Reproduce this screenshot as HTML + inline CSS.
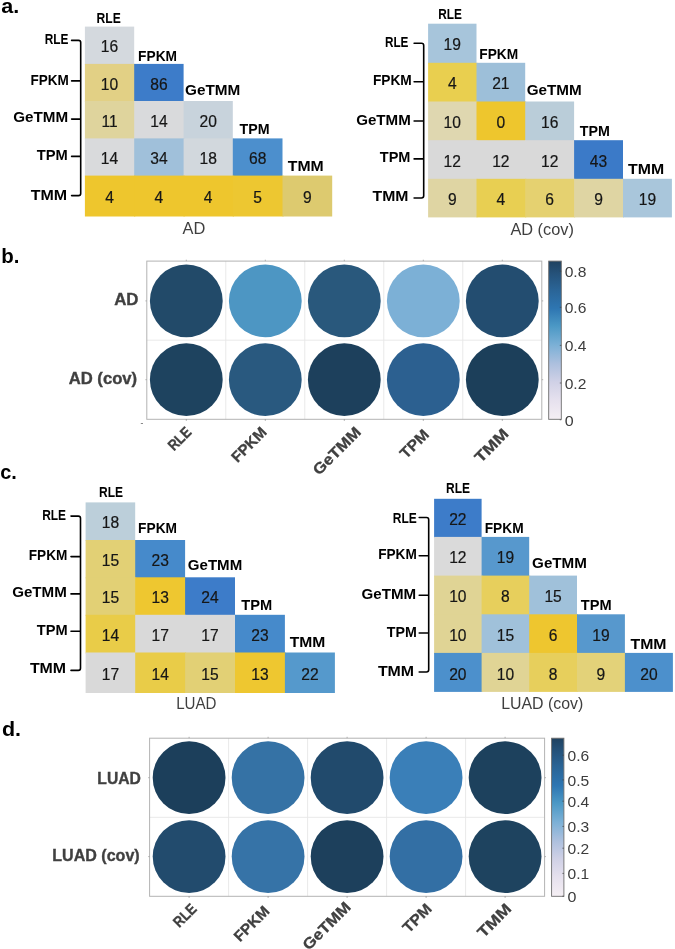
<!DOCTYPE html>
<html lang="en"><head><meta charset="utf-8"><title>Figure</title>
<style>html,body{margin:0;padding:0;background:#fff}svg{display:block}text{font-family:"Liberation Sans", sans-serif}</style>
</head><body>
<svg width="675" height="949" viewBox="0 0 675 949">
<rect width="675" height="949" fill="#fff"/>
<defs><linearGradient id="cb" x1="0" y1="1" x2="0" y2="0">
<stop offset="0" stop-color="#f5eff4"/>
<stop offset="0.12" stop-color="#e6e1ee"/>
<stop offset="0.235" stop-color="#d0d1e6"/>
<stop offset="0.35" stop-color="#adc0de"/>
<stop offset="0.47" stop-color="#7bb0d6"/>
<stop offset="0.59" stop-color="#4b98c5"/>
<stop offset="0.7" stop-color="#2e76b2"/>
<stop offset="0.82" stop-color="#2a6496"/>
<stop offset="0.92" stop-color="#25527a"/>
<stop offset="1" stop-color="#1f4260"/>
</linearGradient></defs>
<text x="1.25" y="12.90" font-size="21" font-weight="bold" fill="#000" textLength="18.00" lengthAdjust="spacingAndGlyphs">a.</text>
<text x="1.25" y="262.90" font-size="21" font-weight="bold" fill="#000" textLength="18.20" lengthAdjust="spacingAndGlyphs">b.</text>
<text x="0.15" y="479.40" font-size="21" font-weight="bold" fill="#000" textLength="16.60" lengthAdjust="spacingAndGlyphs">c.</text>
<text x="1.95" y="735.70" font-size="21" font-weight="bold" fill="#000" textLength="19.10" lengthAdjust="spacingAndGlyphs">d.</text>
<rect x="84.90" y="26.60" width="49.30" height="38.30" fill="#d4d9de"/>
<rect x="84.90" y="63.90" width="50.30" height="38.10" fill="#e2d085"/>
<rect x="134.20" y="63.90" width="49.40" height="38.10" fill="#3d7cc9"/>
<rect x="84.90" y="101.00" width="50.30" height="38.40" fill="#dfd49d"/>
<rect x="134.20" y="101.00" width="50.40" height="38.40" fill="#d9dadc"/>
<rect x="183.60" y="101.00" width="49.20" height="38.40" fill="#c8d3dc"/>
<rect x="84.90" y="138.40" width="50.30" height="38.20" fill="#d9dadc"/>
<rect x="134.20" y="138.40" width="50.40" height="38.20" fill="#a0c0da"/>
<rect x="183.60" y="138.40" width="50.20" height="38.20" fill="#d2d8dd"/>
<rect x="232.80" y="138.40" width="49.70" height="38.20" fill="#4c8fcd"/>
<rect x="84.90" y="175.60" width="50.30" height="40.90" fill="#eec62d"/>
<rect x="134.20" y="175.60" width="50.40" height="40.90" fill="#eec62d"/>
<rect x="183.60" y="175.60" width="50.20" height="40.90" fill="#eec62d"/>
<rect x="232.80" y="175.60" width="50.70" height="40.90" fill="#edc731"/>
<rect x="282.50" y="175.60" width="49.70" height="40.90" fill="#ddca6f"/>
<text x="109.55" y="52.35" font-size="15.6" font-weight="normal" fill="#161616" text-anchor="middle" stroke="#161616" stroke-width="0.2">16</text>
<text x="109.55" y="89.55" font-size="15.6" font-weight="normal" fill="#161616" text-anchor="middle" stroke="#161616" stroke-width="0.2">10</text>
<text x="158.90" y="89.55" font-size="15.6" font-weight="normal" fill="#161616" text-anchor="middle" stroke="#161616" stroke-width="0.2">86</text>
<text x="109.55" y="126.80" font-size="15.6" font-weight="normal" fill="#161616" text-anchor="middle" stroke="#161616" stroke-width="0.2">11</text>
<text x="158.90" y="126.80" font-size="15.6" font-weight="normal" fill="#161616" text-anchor="middle" stroke="#161616" stroke-width="0.2">14</text>
<text x="208.20" y="126.80" font-size="15.6" font-weight="normal" fill="#161616" text-anchor="middle" stroke="#161616" stroke-width="0.2">20</text>
<text x="109.55" y="164.10" font-size="15.6" font-weight="normal" fill="#161616" text-anchor="middle" stroke="#161616" stroke-width="0.2">14</text>
<text x="158.90" y="164.10" font-size="15.6" font-weight="normal" fill="#161616" text-anchor="middle" stroke="#161616" stroke-width="0.2">34</text>
<text x="208.20" y="164.10" font-size="15.6" font-weight="normal" fill="#161616" text-anchor="middle" stroke="#161616" stroke-width="0.2">18</text>
<text x="257.65" y="164.10" font-size="15.6" font-weight="normal" fill="#161616" text-anchor="middle" stroke="#161616" stroke-width="0.2">68</text>
<text x="109.55" y="203.15" font-size="15.6" font-weight="normal" fill="#161616" text-anchor="middle" stroke="#161616" stroke-width="0.2">4</text>
<text x="158.90" y="203.15" font-size="15.6" font-weight="normal" fill="#161616" text-anchor="middle" stroke="#161616" stroke-width="0.2">4</text>
<text x="208.20" y="203.15" font-size="15.6" font-weight="normal" fill="#161616" text-anchor="middle" stroke="#161616" stroke-width="0.2">4</text>
<text x="257.65" y="203.15" font-size="15.6" font-weight="normal" fill="#161616" text-anchor="middle" stroke="#161616" stroke-width="0.2">5</text>
<text x="307.35" y="203.15" font-size="15.6" font-weight="normal" fill="#161616" text-anchor="middle" stroke="#161616" stroke-width="0.2">9</text>
<path d="M71.60 40.40 H78.50 Q80.70 40.40 80.70 42.60 V193.40 Q80.70 195.60 78.50 195.60 H71.60" fill="none" stroke="#000" stroke-width="1.6" stroke-linecap="round"/>
<path d="M71.60 80.90 H80.10" fill="none" stroke="#000" stroke-width="1.6" stroke-linecap="round"/>
<path d="M71.60 119.10 H80.10" fill="none" stroke="#000" stroke-width="1.6" stroke-linecap="round"/>
<path d="M71.60 156.40 H80.10" fill="none" stroke="#000" stroke-width="1.6" stroke-linecap="round"/>
<text x="44.80" y="43.70" font-size="14.2" font-weight="bold" fill="#000" textLength="23.70" lengthAdjust="spacingAndGlyphs">RLE</text>
<text x="30.40" y="84.90" font-size="14.2" font-weight="bold" fill="#000" textLength="38.40" lengthAdjust="spacingAndGlyphs">FPKM</text>
<text x="13.20" y="122.40" font-size="14.2" font-weight="bold" fill="#000" textLength="54.90" lengthAdjust="spacingAndGlyphs">GeTMM</text>
<text x="36.80" y="159.70" font-size="14.2" font-weight="bold" fill="#000" textLength="31.00" lengthAdjust="spacingAndGlyphs">TPM</text>
<text x="30.80" y="200.00" font-size="14.2" font-weight="bold" fill="#000" textLength="36.40" lengthAdjust="spacingAndGlyphs">TMM</text>
<text x="96.60" y="23.20" font-size="14.2" font-weight="bold" fill="#000" textLength="24.20" lengthAdjust="spacingAndGlyphs">RLE</text>
<text x="138.10" y="61.20" font-size="14.2" font-weight="bold" fill="#000" textLength="38.90" lengthAdjust="spacingAndGlyphs">FPKM</text>
<text x="185.00" y="95.00" font-size="14.2" font-weight="bold" fill="#000" textLength="55.30" lengthAdjust="spacingAndGlyphs">GeTMM</text>
<text x="239.60" y="134.40" font-size="14.2" font-weight="bold" fill="#000" textLength="30.00" lengthAdjust="spacingAndGlyphs">TPM</text>
<text x="287.80" y="171.10" font-size="14.2" font-weight="bold" fill="#000" textLength="35.90" lengthAdjust="spacingAndGlyphs">TMM</text>
<text x="182.60" y="233.70" font-size="16" font-weight="normal" fill="#3f3f3f" textLength="22.80" lengthAdjust="spacingAndGlyphs">AD</text>
<rect x="428.10" y="23.70" width="48.40" height="40.10" fill="#a7c5db"/>
<rect x="428.10" y="62.80" width="49.40" height="39.70" fill="#e9cf4f"/>
<rect x="476.50" y="62.80" width="48.70" height="39.70" fill="#9dbfd9"/>
<rect x="428.10" y="101.50" width="49.40" height="39.70" fill="#dfd7b0"/>
<rect x="476.50" y="101.50" width="49.70" height="39.70" fill="#eec62d"/>
<rect x="525.20" y="101.50" width="48.90" height="39.70" fill="#bacdd9"/>
<rect x="428.10" y="140.20" width="49.40" height="39.60" fill="#d9d9d9"/>
<rect x="476.50" y="140.20" width="49.70" height="39.60" fill="#d9d9d9"/>
<rect x="525.20" y="140.20" width="49.90" height="39.60" fill="#d9d9d9"/>
<rect x="574.10" y="140.20" width="48.90" height="39.60" fill="#3b7ac8"/>
<rect x="428.10" y="178.80" width="49.40" height="38.60" fill="#dfd5a3"/>
<rect x="476.50" y="178.80" width="49.70" height="38.60" fill="#e8cf52"/>
<rect x="525.20" y="178.80" width="49.90" height="38.60" fill="#e5d170"/>
<rect x="574.10" y="178.80" width="49.90" height="38.60" fill="#dfd5a3"/>
<rect x="623.00" y="178.80" width="48.90" height="38.60" fill="#a9c6db"/>
<text x="452.30" y="50.35" font-size="15.6" font-weight="normal" fill="#161616" text-anchor="middle" stroke="#161616" stroke-width="0.2">19</text>
<text x="452.30" y="89.25" font-size="15.6" font-weight="normal" fill="#161616" text-anchor="middle" stroke="#161616" stroke-width="0.2">4</text>
<text x="500.85" y="89.25" font-size="15.6" font-weight="normal" fill="#161616" text-anchor="middle" stroke="#161616" stroke-width="0.2">21</text>
<text x="452.30" y="127.95" font-size="15.6" font-weight="normal" fill="#161616" text-anchor="middle" stroke="#161616" stroke-width="0.2">10</text>
<text x="500.85" y="127.95" font-size="15.6" font-weight="normal" fill="#161616" text-anchor="middle" stroke="#161616" stroke-width="0.2">0</text>
<text x="549.65" y="127.95" font-size="15.6" font-weight="normal" fill="#161616" text-anchor="middle" stroke="#161616" stroke-width="0.2">16</text>
<text x="452.30" y="166.60" font-size="15.6" font-weight="normal" fill="#161616" text-anchor="middle" stroke="#161616" stroke-width="0.2">12</text>
<text x="500.85" y="166.60" font-size="15.6" font-weight="normal" fill="#161616" text-anchor="middle" stroke="#161616" stroke-width="0.2">12</text>
<text x="549.65" y="166.60" font-size="15.6" font-weight="normal" fill="#161616" text-anchor="middle" stroke="#161616" stroke-width="0.2">12</text>
<text x="598.55" y="166.60" font-size="15.6" font-weight="normal" fill="#161616" text-anchor="middle" stroke="#161616" stroke-width="0.2">43</text>
<text x="452.30" y="205.20" font-size="15.6" font-weight="normal" fill="#161616" text-anchor="middle" stroke="#161616" stroke-width="0.2">9</text>
<text x="500.85" y="205.20" font-size="15.6" font-weight="normal" fill="#161616" text-anchor="middle" stroke="#161616" stroke-width="0.2">4</text>
<text x="549.65" y="205.20" font-size="15.6" font-weight="normal" fill="#161616" text-anchor="middle" stroke="#161616" stroke-width="0.2">6</text>
<text x="598.55" y="205.20" font-size="15.6" font-weight="normal" fill="#161616" text-anchor="middle" stroke="#161616" stroke-width="0.2">9</text>
<text x="647.45" y="205.20" font-size="15.6" font-weight="normal" fill="#161616" text-anchor="middle" stroke="#161616" stroke-width="0.2">19</text>
<path d="M414.10 43.30 H421.50 Q423.70 43.30 423.70 45.50 V195.80 Q423.70 198.00 421.50 198.00 H414.10" fill="none" stroke="#000" stroke-width="1.6" stroke-linecap="round"/>
<path d="M414.10 81.70 H423.10" fill="none" stroke="#000" stroke-width="1.6" stroke-linecap="round"/>
<path d="M414.10 121.00 H423.10" fill="none" stroke="#000" stroke-width="1.6" stroke-linecap="round"/>
<path d="M414.10 158.90 H423.10" fill="none" stroke="#000" stroke-width="1.6" stroke-linecap="round"/>
<text x="384.90" y="47.30" font-size="14.2" font-weight="bold" fill="#000" textLength="23.50" lengthAdjust="spacingAndGlyphs">RLE</text>
<text x="372.90" y="84.70" font-size="14.2" font-weight="bold" fill="#000" textLength="38.90" lengthAdjust="spacingAndGlyphs">FPKM</text>
<text x="356.20" y="124.70" font-size="14.2" font-weight="bold" fill="#000" textLength="54.60" lengthAdjust="spacingAndGlyphs">GeTMM</text>
<text x="379.80" y="162.00" font-size="14.2" font-weight="bold" fill="#000" textLength="30.60" lengthAdjust="spacingAndGlyphs">TPM</text>
<text x="372.50" y="201.30" font-size="14.2" font-weight="bold" fill="#000" textLength="35.90" lengthAdjust="spacingAndGlyphs">TMM</text>
<text x="438.30" y="19.40" font-size="14.2" font-weight="bold" fill="#000" textLength="23.70" lengthAdjust="spacingAndGlyphs">RLE</text>
<text x="479.30" y="58.80" font-size="14.2" font-weight="bold" fill="#000" textLength="38.90" lengthAdjust="spacingAndGlyphs">FPKM</text>
<text x="526.70" y="94.80" font-size="14.2" font-weight="bold" fill="#000" textLength="55.00" lengthAdjust="spacingAndGlyphs">GeTMM</text>
<text x="579.70" y="135.60" font-size="14.2" font-weight="bold" fill="#000" textLength="30.10" lengthAdjust="spacingAndGlyphs">TPM</text>
<text x="628.10" y="173.60" font-size="14.2" font-weight="bold" fill="#000" textLength="36.00" lengthAdjust="spacingAndGlyphs">TMM</text>
<text x="510.40" y="235.10" font-size="16" font-weight="normal" fill="#3f3f3f" textLength="63.50" lengthAdjust="spacingAndGlyphs">AD (cov)</text>
<rect x="85.60" y="502.40" width="49.60" height="38.60" fill="#bccfda"/>
<rect x="85.60" y="540.00" width="50.60" height="38.30" fill="#e2d075"/>
<rect x="135.20" y="540.00" width="49.90" height="38.30" fill="#468acb"/>
<rect x="85.60" y="577.30" width="50.60" height="38.50" fill="#e2d075"/>
<rect x="135.20" y="577.30" width="50.90" height="38.50" fill="#eec730"/>
<rect x="185.10" y="577.30" width="49.90" height="38.50" fill="#3d7cc9"/>
<rect x="85.60" y="614.80" width="50.60" height="38.70" fill="#e9cc48"/>
<rect x="135.20" y="614.80" width="50.90" height="38.70" fill="#d9d9d9"/>
<rect x="185.10" y="614.80" width="50.90" height="38.70" fill="#d9d9d9"/>
<rect x="235.00" y="614.80" width="49.90" height="38.70" fill="#468acb"/>
<rect x="85.60" y="652.50" width="50.60" height="40.50" fill="#d9d9d9"/>
<rect x="135.20" y="652.50" width="50.90" height="40.50" fill="#e9cc48"/>
<rect x="185.10" y="652.50" width="50.90" height="40.50" fill="#e2d075"/>
<rect x="235.00" y="652.50" width="50.90" height="40.50" fill="#eec730"/>
<rect x="284.90" y="652.50" width="50.00" height="40.50" fill="#5599cc"/>
<text x="110.40" y="528.30" font-size="15.6" font-weight="normal" fill="#161616" text-anchor="middle" stroke="#161616" stroke-width="0.2">18</text>
<text x="110.40" y="565.75" font-size="15.6" font-weight="normal" fill="#161616" text-anchor="middle" stroke="#161616" stroke-width="0.2">15</text>
<text x="160.15" y="565.75" font-size="15.6" font-weight="normal" fill="#161616" text-anchor="middle" stroke="#161616" stroke-width="0.2">23</text>
<text x="110.40" y="603.15" font-size="15.6" font-weight="normal" fill="#161616" text-anchor="middle" stroke="#161616" stroke-width="0.2">15</text>
<text x="160.15" y="603.15" font-size="15.6" font-weight="normal" fill="#161616" text-anchor="middle" stroke="#161616" stroke-width="0.2">13</text>
<text x="210.05" y="603.15" font-size="15.6" font-weight="normal" fill="#161616" text-anchor="middle" stroke="#161616" stroke-width="0.2">24</text>
<text x="110.40" y="640.75" font-size="15.6" font-weight="normal" fill="#161616" text-anchor="middle" stroke="#161616" stroke-width="0.2">14</text>
<text x="160.15" y="640.75" font-size="15.6" font-weight="normal" fill="#161616" text-anchor="middle" stroke="#161616" stroke-width="0.2">17</text>
<text x="210.05" y="640.75" font-size="15.6" font-weight="normal" fill="#161616" text-anchor="middle" stroke="#161616" stroke-width="0.2">17</text>
<text x="259.95" y="640.75" font-size="15.6" font-weight="normal" fill="#161616" text-anchor="middle" stroke="#161616" stroke-width="0.2">23</text>
<text x="110.40" y="679.85" font-size="15.6" font-weight="normal" fill="#161616" text-anchor="middle" stroke="#161616" stroke-width="0.2">17</text>
<text x="160.15" y="679.85" font-size="15.6" font-weight="normal" fill="#161616" text-anchor="middle" stroke="#161616" stroke-width="0.2">14</text>
<text x="210.05" y="679.85" font-size="15.6" font-weight="normal" fill="#161616" text-anchor="middle" stroke="#161616" stroke-width="0.2">15</text>
<text x="259.95" y="679.85" font-size="15.6" font-weight="normal" fill="#161616" text-anchor="middle" stroke="#161616" stroke-width="0.2">13</text>
<text x="309.90" y="679.85" font-size="15.6" font-weight="normal" fill="#161616" text-anchor="middle" stroke="#161616" stroke-width="0.2">22</text>
<path d="M71.00 516.10 H78.30 Q80.50 516.10 80.50 518.30 V668.20 Q80.50 670.40 78.30 670.40 H71.00" fill="none" stroke="#000" stroke-width="1.6" stroke-linecap="round"/>
<path d="M71.00 556.60 H79.90" fill="none" stroke="#000" stroke-width="1.6" stroke-linecap="round"/>
<path d="M71.00 593.90 H79.90" fill="none" stroke="#000" stroke-width="1.6" stroke-linecap="round"/>
<path d="M71.00 631.30 H79.90" fill="none" stroke="#000" stroke-width="1.6" stroke-linecap="round"/>
<text x="42.20" y="520.10" font-size="14.2" font-weight="bold" fill="#000" textLength="23.90" lengthAdjust="spacingAndGlyphs">RLE</text>
<text x="28.80" y="560.30" font-size="14.2" font-weight="bold" fill="#000" textLength="38.60" lengthAdjust="spacingAndGlyphs">FPKM</text>
<text x="12.20" y="597.40" font-size="14.2" font-weight="bold" fill="#000" textLength="54.60" lengthAdjust="spacingAndGlyphs">GeTMM</text>
<text x="36.80" y="634.70" font-size="14.2" font-weight="bold" fill="#000" textLength="30.80" lengthAdjust="spacingAndGlyphs">TPM</text>
<text x="29.90" y="672.70" font-size="14.2" font-weight="bold" fill="#000" textLength="36.20" lengthAdjust="spacingAndGlyphs">TMM</text>
<text x="99.00" y="497.10" font-size="14.2" font-weight="bold" fill="#000" textLength="24.00" lengthAdjust="spacingAndGlyphs">RLE</text>
<text x="138.10" y="533.30" font-size="14.2" font-weight="bold" fill="#000" textLength="38.90" lengthAdjust="spacingAndGlyphs">FPKM</text>
<text x="187.80" y="569.60" font-size="14.2" font-weight="bold" fill="#000" textLength="54.40" lengthAdjust="spacingAndGlyphs">GeTMM</text>
<text x="241.20" y="609.80" font-size="14.2" font-weight="bold" fill="#000" textLength="30.90" lengthAdjust="spacingAndGlyphs">TPM</text>
<text x="289.80" y="647.40" font-size="14.2" font-weight="bold" fill="#000" textLength="35.60" lengthAdjust="spacingAndGlyphs">TMM</text>
<text x="176.20" y="709.00" font-size="16" font-weight="normal" fill="#3f3f3f" textLength="40.30" lengthAdjust="spacingAndGlyphs">LUAD</text>
<rect x="434.10" y="498.80" width="47.50" height="39.10" fill="#3d7cc9"/>
<rect x="434.10" y="536.90" width="48.50" height="39.70" fill="#dadada"/>
<rect x="481.60" y="536.90" width="47.60" height="39.70" fill="#5798cd"/>
<rect x="434.10" y="575.60" width="48.50" height="39.70" fill="#e0d495"/>
<rect x="481.60" y="575.60" width="48.60" height="39.70" fill="#e7cf5c"/>
<rect x="529.20" y="575.60" width="47.80" height="39.70" fill="#a0c1da"/>
<rect x="434.10" y="614.30" width="48.50" height="39.60" fill="#e0d495"/>
<rect x="481.60" y="614.30" width="48.60" height="39.60" fill="#a0c1da"/>
<rect x="529.20" y="614.30" width="48.80" height="39.60" fill="#eec62f"/>
<rect x="577.00" y="614.30" width="47.90" height="39.60" fill="#5798cd"/>
<rect x="434.10" y="652.90" width="48.50" height="39.00" fill="#4c90cc"/>
<rect x="481.60" y="652.90" width="48.60" height="39.00" fill="#e0d495"/>
<rect x="529.20" y="652.90" width="48.80" height="39.00" fill="#e7cf5c"/>
<rect x="577.00" y="652.90" width="48.90" height="39.00" fill="#e3d279"/>
<rect x="624.90" y="652.90" width="48.00" height="39.00" fill="#4c90cc"/>
<text x="457.85" y="524.95" font-size="15.6" font-weight="normal" fill="#161616" text-anchor="middle" stroke="#161616" stroke-width="0.2">22</text>
<text x="457.85" y="563.35" font-size="15.6" font-weight="normal" fill="#161616" text-anchor="middle" stroke="#161616" stroke-width="0.2">12</text>
<text x="505.40" y="563.35" font-size="15.6" font-weight="normal" fill="#161616" text-anchor="middle" stroke="#161616" stroke-width="0.2">19</text>
<text x="457.85" y="602.05" font-size="15.6" font-weight="normal" fill="#161616" text-anchor="middle" stroke="#161616" stroke-width="0.2">10</text>
<text x="505.40" y="602.05" font-size="15.6" font-weight="normal" fill="#161616" text-anchor="middle" stroke="#161616" stroke-width="0.2">8</text>
<text x="553.10" y="602.05" font-size="15.6" font-weight="normal" fill="#161616" text-anchor="middle" stroke="#161616" stroke-width="0.2">15</text>
<text x="457.85" y="640.70" font-size="15.6" font-weight="normal" fill="#161616" text-anchor="middle" stroke="#161616" stroke-width="0.2">10</text>
<text x="505.40" y="640.70" font-size="15.6" font-weight="normal" fill="#161616" text-anchor="middle" stroke="#161616" stroke-width="0.2">15</text>
<text x="553.10" y="640.70" font-size="15.6" font-weight="normal" fill="#161616" text-anchor="middle" stroke="#161616" stroke-width="0.2">6</text>
<text x="600.95" y="640.70" font-size="15.6" font-weight="normal" fill="#161616" text-anchor="middle" stroke="#161616" stroke-width="0.2">19</text>
<text x="457.85" y="679.50" font-size="15.6" font-weight="normal" fill="#161616" text-anchor="middle" stroke="#161616" stroke-width="0.2">20</text>
<text x="505.40" y="679.50" font-size="15.6" font-weight="normal" fill="#161616" text-anchor="middle" stroke="#161616" stroke-width="0.2">10</text>
<text x="553.10" y="679.50" font-size="15.6" font-weight="normal" fill="#161616" text-anchor="middle" stroke="#161616" stroke-width="0.2">8</text>
<text x="600.95" y="679.50" font-size="15.6" font-weight="normal" fill="#161616" text-anchor="middle" stroke="#161616" stroke-width="0.2">9</text>
<text x="648.90" y="679.50" font-size="15.6" font-weight="normal" fill="#161616" text-anchor="middle" stroke="#161616" stroke-width="0.2">20</text>
<path d="M419.20 517.50 H426.50 Q428.70 517.50 428.70 519.70 V669.80 Q428.70 672.00 426.50 672.00 H419.20" fill="none" stroke="#000" stroke-width="1.6" stroke-linecap="round"/>
<path d="M419.20 555.80 H428.10" fill="none" stroke="#000" stroke-width="1.6" stroke-linecap="round"/>
<path d="M419.20 595.30 H428.10" fill="none" stroke="#000" stroke-width="1.6" stroke-linecap="round"/>
<path d="M419.20 633.00 H428.10" fill="none" stroke="#000" stroke-width="1.6" stroke-linecap="round"/>
<text x="392.80" y="522.70" font-size="14.2" font-weight="bold" fill="#000" textLength="24.00" lengthAdjust="spacingAndGlyphs">RLE</text>
<text x="378.20" y="559.00" font-size="14.2" font-weight="bold" fill="#000" textLength="38.60" lengthAdjust="spacingAndGlyphs">FPKM</text>
<text x="361.50" y="598.60" font-size="14.2" font-weight="bold" fill="#000" textLength="54.60" lengthAdjust="spacingAndGlyphs">GeTMM</text>
<text x="386.80" y="637.40" font-size="14.2" font-weight="bold" fill="#000" textLength="30.00" lengthAdjust="spacingAndGlyphs">TPM</text>
<text x="377.90" y="675.70" font-size="14.2" font-weight="bold" fill="#000" textLength="36.20" lengthAdjust="spacingAndGlyphs">TMM</text>
<text x="446.10" y="493.20" font-size="14.2" font-weight="bold" fill="#000" textLength="24.00" lengthAdjust="spacingAndGlyphs">RLE</text>
<text x="484.70" y="532.60" font-size="14.2" font-weight="bold" fill="#000" textLength="38.90" lengthAdjust="spacingAndGlyphs">FPKM</text>
<text x="532.10" y="568.10" font-size="14.2" font-weight="bold" fill="#000" textLength="54.80" lengthAdjust="spacingAndGlyphs">GeTMM</text>
<text x="580.80" y="609.80" font-size="14.2" font-weight="bold" fill="#000" textLength="30.80" lengthAdjust="spacingAndGlyphs">TPM</text>
<text x="630.50" y="649.00" font-size="14.2" font-weight="bold" fill="#000" textLength="36.00" lengthAdjust="spacingAndGlyphs">TMM</text>
<text x="501.20" y="708.80" font-size="16" font-weight="normal" fill="#3f3f3f" textLength="82.10" lengthAdjust="spacingAndGlyphs">LUAD (cov)</text>
<line x1="225.80" y1="261.1" x2="225.80" y2="419.3" stroke="#e6e6e6" stroke-width="0.9"/>
<line x1="304.80" y1="261.1" x2="304.80" y2="419.3" stroke="#e6e6e6" stroke-width="0.9"/>
<line x1="383.80" y1="261.1" x2="383.80" y2="419.3" stroke="#e6e6e6" stroke-width="0.9"/>
<line x1="462.80" y1="261.1" x2="462.80" y2="419.3" stroke="#e6e6e6" stroke-width="0.9"/>
<line x1="146.8" y1="340.2" x2="541.8" y2="340.2" stroke="#e6e6e6" stroke-width="0.9"/>
<circle cx="186.30" cy="300.9" r="36.4" fill="#224a69"/>
<circle cx="265.30" cy="300.9" r="36.4" fill="#4d96c3"/>
<circle cx="344.30" cy="300.9" r="36.4" fill="#29587c"/>
<circle cx="423.30" cy="300.9" r="36.4" fill="#7cb0d6"/>
<circle cx="502.30" cy="300.9" r="36.4" fill="#234d70"/>
<circle cx="186.30" cy="379.7" r="36.4" fill="#1e435f"/>
<circle cx="265.30" cy="379.7" r="36.4" fill="#29597f"/>
<circle cx="344.30" cy="379.7" r="36.4" fill="#1d405c"/>
<circle cx="423.30" cy="379.7" r="36.4" fill="#2c6090"/>
<circle cx="502.30" cy="379.7" r="36.4" fill="#1c3f5a"/>
<rect x="146.8" y="261.1" width="395.00" height="158.20" fill="none" stroke="#b3b3b3" stroke-width="1"/>
<line x1="186.30" y1="259.70000000000005" x2="186.30" y2="261.1" stroke="#a0a0a0" stroke-width="0.8"/>
<line x1="186.30" y1="419.3" x2="186.30" y2="420.7" stroke="#808080" stroke-width="0.8"/>
<line x1="265.30" y1="259.70000000000005" x2="265.30" y2="261.1" stroke="#a0a0a0" stroke-width="0.8"/>
<line x1="265.30" y1="419.3" x2="265.30" y2="420.7" stroke="#808080" stroke-width="0.8"/>
<line x1="344.30" y1="259.70000000000005" x2="344.30" y2="261.1" stroke="#a0a0a0" stroke-width="0.8"/>
<line x1="344.30" y1="419.3" x2="344.30" y2="420.7" stroke="#808080" stroke-width="0.8"/>
<line x1="423.30" y1="259.70000000000005" x2="423.30" y2="261.1" stroke="#a0a0a0" stroke-width="0.8"/>
<line x1="423.30" y1="419.3" x2="423.30" y2="420.7" stroke="#808080" stroke-width="0.8"/>
<line x1="502.30" y1="259.70000000000005" x2="502.30" y2="261.1" stroke="#a0a0a0" stroke-width="0.8"/>
<line x1="502.30" y1="419.3" x2="502.30" y2="420.7" stroke="#808080" stroke-width="0.8"/>
<line x1="145.4" y1="300.9" x2="146.8" y2="300.9" stroke="#a0a0a0" stroke-width="0.8"/>
<line x1="541.8" y1="300.9" x2="543.1999999999999" y2="300.9" stroke="#a0a0a0" stroke-width="0.8"/>
<line x1="145.4" y1="379.7" x2="146.8" y2="379.7" stroke="#a0a0a0" stroke-width="0.8"/>
<line x1="541.8" y1="379.7" x2="543.1999999999999" y2="379.7" stroke="#a0a0a0" stroke-width="0.8"/>
<text x="114.20" y="305.30" font-size="16.3" font-weight="bold" fill="#404040" textLength="24.30" lengthAdjust="spacingAndGlyphs" stroke="#404040" stroke-width="0.35">AD</text>
<text x="68.70" y="384.30" font-size="16.3" font-weight="bold" fill="#404040" textLength="68.50" lengthAdjust="spacingAndGlyphs" stroke="#404040" stroke-width="0.35">AD (cov)</text>
<text transform="translate(192.10 433.40) rotate(-45)" x="0.4" y="0" text-anchor="end" font-size="15.2" font-weight="bold" fill="#404040" stroke="#404040" stroke-width="0.3" textLength="26.10" lengthAdjust="spacingAndGlyphs">RLE</text>
<text transform="translate(267.40 433.40) rotate(-45)" x="0.4" y="0" text-anchor="end" font-size="15.2" font-weight="bold" fill="#404040" stroke="#404040" stroke-width="0.3" textLength="42.70" lengthAdjust="spacingAndGlyphs">FPKM</text>
<text transform="translate(361.60 433.40) rotate(-45)" x="0.4" y="0" text-anchor="end" font-size="15.2" font-weight="bold" fill="#404040" stroke="#404040" stroke-width="0.3" textLength="60.80" lengthAdjust="spacingAndGlyphs">GeTMM</text>
<text transform="translate(429.80 435.70) rotate(-45)" x="0.4" y="0" text-anchor="end" font-size="15.2" font-weight="bold" fill="#404040" stroke="#404040" stroke-width="0.3" textLength="34.00" lengthAdjust="spacingAndGlyphs">TPM</text>
<text transform="translate(509.20 435.10) rotate(-45)" x="0.4" y="0" text-anchor="end" font-size="15.2" font-weight="bold" fill="#404040" stroke="#404040" stroke-width="0.3" textLength="40.70" lengthAdjust="spacingAndGlyphs">TMM</text>
<rect x="548.7" y="261.1" width="12.60" height="158.20" fill="url(#cb)" stroke="#6e6e6e" stroke-width="0.9"/>
<line x1="559.80" y1="271.20" x2="561.30" y2="271.20" stroke="#404040" stroke-width="0.7"/>
<text x="564.70" y="277.10" font-size="14.8" font-weight="normal" fill="#3c3c3c" textLength="21.70" lengthAdjust="spacingAndGlyphs">0.8</text>
<line x1="559.80" y1="307.30" x2="561.30" y2="307.30" stroke="#404040" stroke-width="0.7"/>
<text x="564.70" y="313.20" font-size="14.8" font-weight="normal" fill="#3c3c3c" textLength="21.70" lengthAdjust="spacingAndGlyphs">0.6</text>
<line x1="559.80" y1="345.40" x2="561.30" y2="345.40" stroke="#404040" stroke-width="0.7"/>
<text x="564.70" y="351.30" font-size="14.8" font-weight="normal" fill="#3c3c3c" textLength="21.70" lengthAdjust="spacingAndGlyphs">0.4</text>
<line x1="559.80" y1="383.00" x2="561.30" y2="383.00" stroke="#404040" stroke-width="0.7"/>
<text x="564.70" y="388.90" font-size="14.8" font-weight="normal" fill="#3c3c3c" textLength="21.70" lengthAdjust="spacingAndGlyphs">0.2</text>
<line x1="559.80" y1="419.80" x2="561.30" y2="419.80" stroke="#404040" stroke-width="0.7"/>
<text x="564.70" y="425.70" font-size="14.8" font-weight="normal" fill="#3c3c3c" textLength="8.90" lengthAdjust="spacingAndGlyphs">0</text>
<rect x="140.8" y="423.1" width="2.2" height="0.8" fill="#6b6b6b"/>
<line x1="228.60" y1="738.2" x2="228.60" y2="896.3" stroke="#e6e6e6" stroke-width="0.9"/>
<line x1="307.60" y1="738.2" x2="307.60" y2="896.3" stroke="#e6e6e6" stroke-width="0.9"/>
<line x1="386.60" y1="738.2" x2="386.60" y2="896.3" stroke="#e6e6e6" stroke-width="0.9"/>
<line x1="465.60" y1="738.2" x2="465.60" y2="896.3" stroke="#e6e6e6" stroke-width="0.9"/>
<line x1="149.6" y1="817.3" x2="544.6" y2="817.3" stroke="#e6e6e6" stroke-width="0.9"/>
<circle cx="189.10" cy="777.7" r="36.4" fill="#1c3f5b"/>
<circle cx="268.10" cy="777.7" r="36.4" fill="#3572a5"/>
<circle cx="347.10" cy="777.7" r="36.4" fill="#214a6c"/>
<circle cx="426.10" cy="777.7" r="36.4" fill="#3a7fb8"/>
<circle cx="505.10" cy="777.7" r="36.4" fill="#1d415d"/>
<circle cx="189.10" cy="856.6" r="36.4" fill="#224b6d"/>
<circle cx="268.10" cy="856.6" r="36.4" fill="#3673a7"/>
<circle cx="347.10" cy="856.6" r="36.4" fill="#1d405c"/>
<circle cx="426.10" cy="856.6" r="36.4" fill="#336fa4"/>
<circle cx="505.10" cy="856.6" r="36.4" fill="#1e435f"/>
<rect x="149.6" y="738.2" width="395.00" height="158.10" fill="none" stroke="#b3b3b3" stroke-width="1"/>
<line x1="189.10" y1="736.8000000000001" x2="189.10" y2="738.2" stroke="#a0a0a0" stroke-width="0.8"/>
<line x1="189.10" y1="896.3" x2="189.10" y2="897.6999999999999" stroke="#808080" stroke-width="0.8"/>
<line x1="268.10" y1="736.8000000000001" x2="268.10" y2="738.2" stroke="#a0a0a0" stroke-width="0.8"/>
<line x1="268.10" y1="896.3" x2="268.10" y2="897.6999999999999" stroke="#808080" stroke-width="0.8"/>
<line x1="347.10" y1="736.8000000000001" x2="347.10" y2="738.2" stroke="#a0a0a0" stroke-width="0.8"/>
<line x1="347.10" y1="896.3" x2="347.10" y2="897.6999999999999" stroke="#808080" stroke-width="0.8"/>
<line x1="426.10" y1="736.8000000000001" x2="426.10" y2="738.2" stroke="#a0a0a0" stroke-width="0.8"/>
<line x1="426.10" y1="896.3" x2="426.10" y2="897.6999999999999" stroke="#808080" stroke-width="0.8"/>
<line x1="505.10" y1="736.8000000000001" x2="505.10" y2="738.2" stroke="#a0a0a0" stroke-width="0.8"/>
<line x1="505.10" y1="896.3" x2="505.10" y2="897.6999999999999" stroke="#808080" stroke-width="0.8"/>
<line x1="148.2" y1="777.7" x2="149.6" y2="777.7" stroke="#a0a0a0" stroke-width="0.8"/>
<line x1="544.6" y1="777.7" x2="546.0" y2="777.7" stroke="#a0a0a0" stroke-width="0.8"/>
<line x1="148.2" y1="856.6" x2="149.6" y2="856.6" stroke="#a0a0a0" stroke-width="0.8"/>
<line x1="544.6" y1="856.6" x2="546.0" y2="856.6" stroke="#a0a0a0" stroke-width="0.8"/>
<text x="97.30" y="783.80" font-size="16.3" font-weight="bold" fill="#404040" textLength="43.60" lengthAdjust="spacingAndGlyphs" stroke="#404040" stroke-width="0.35">LUAD</text>
<text x="52.30" y="860.80" font-size="16.3" font-weight="bold" fill="#404040" textLength="87.40" lengthAdjust="spacingAndGlyphs" stroke="#404040" stroke-width="0.35">LUAD (cov)</text>
<text transform="translate(197.40 910.10) rotate(-45)" x="0.4" y="0" text-anchor="end" font-size="15.2" font-weight="bold" fill="#404040" stroke="#404040" stroke-width="0.3" textLength="26.10" lengthAdjust="spacingAndGlyphs">RLE</text>
<text transform="translate(270.00 912.50) rotate(-45)" x="0.4" y="0" text-anchor="end" font-size="15.2" font-weight="bold" fill="#404040" stroke="#404040" stroke-width="0.3" textLength="42.70" lengthAdjust="spacingAndGlyphs">FPKM</text>
<text transform="translate(351.40 908.40) rotate(-45)" x="0.4" y="0" text-anchor="end" font-size="15.2" font-weight="bold" fill="#404040" stroke="#404040" stroke-width="0.3" textLength="60.80" lengthAdjust="spacingAndGlyphs">GeTMM</text>
<text transform="translate(432.50 910.10) rotate(-45)" x="0.4" y="0" text-anchor="end" font-size="15.2" font-weight="bold" fill="#404040" stroke="#404040" stroke-width="0.3" textLength="34.00" lengthAdjust="spacingAndGlyphs">TPM</text>
<text transform="translate(512.10 910.10) rotate(-45)" x="0.4" y="0" text-anchor="end" font-size="15.2" font-weight="bold" fill="#404040" stroke="#404040" stroke-width="0.3" textLength="40.70" lengthAdjust="spacingAndGlyphs">TMM</text>
<rect x="551.6" y="738.2" width="12.30" height="158.10" fill="url(#cb)" stroke="#6e6e6e" stroke-width="0.9"/>
<line x1="562.40" y1="755.20" x2="563.90" y2="755.20" stroke="#404040" stroke-width="0.7"/>
<text x="567.50" y="761.10" font-size="14.8" font-weight="normal" fill="#3c3c3c" textLength="21.70" lengthAdjust="spacingAndGlyphs">0.6</text>
<line x1="562.40" y1="779.90" x2="563.90" y2="779.90" stroke="#404040" stroke-width="0.7"/>
<text x="567.50" y="785.80" font-size="14.8" font-weight="normal" fill="#3c3c3c" textLength="21.70" lengthAdjust="spacingAndGlyphs">0.5</text>
<line x1="562.40" y1="801.20" x2="563.90" y2="801.20" stroke="#404040" stroke-width="0.7"/>
<text x="567.50" y="807.10" font-size="14.8" font-weight="normal" fill="#3c3c3c" textLength="21.70" lengthAdjust="spacingAndGlyphs">0.4</text>
<line x1="562.40" y1="826.40" x2="563.90" y2="826.40" stroke="#404040" stroke-width="0.7"/>
<text x="567.50" y="832.30" font-size="14.8" font-weight="normal" fill="#3c3c3c" textLength="21.70" lengthAdjust="spacingAndGlyphs">0.3</text>
<line x1="562.40" y1="848.20" x2="563.90" y2="848.20" stroke="#404040" stroke-width="0.7"/>
<text x="567.50" y="854.10" font-size="14.8" font-weight="normal" fill="#3c3c3c" textLength="21.70" lengthAdjust="spacingAndGlyphs">0.2</text>
<line x1="562.40" y1="873.40" x2="563.90" y2="873.40" stroke="#404040" stroke-width="0.7"/>
<text x="567.50" y="879.30" font-size="14.8" font-weight="normal" fill="#3c3c3c" textLength="21.70" lengthAdjust="spacingAndGlyphs">0.1</text>
<line x1="562.40" y1="896.20" x2="563.90" y2="896.20" stroke="#404040" stroke-width="0.7"/>
<text x="567.50" y="902.10" font-size="14.8" font-weight="normal" fill="#3c3c3c" textLength="8.90" lengthAdjust="spacingAndGlyphs">0</text>
</svg></body></html>
